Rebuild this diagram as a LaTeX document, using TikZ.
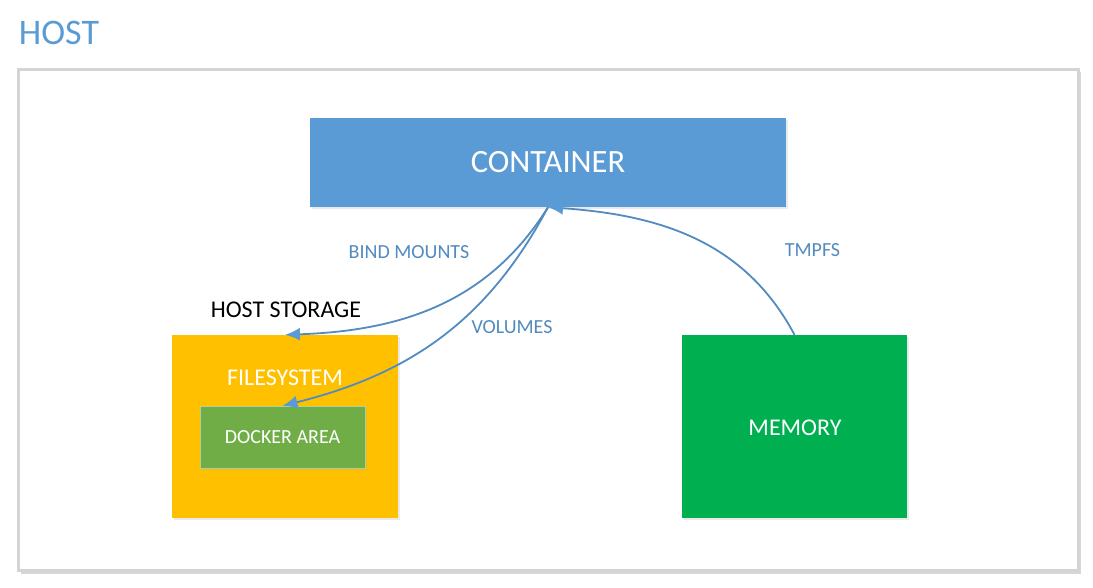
\documentclass[tikz,border=0pt]{standalone}
\usepackage{fontspec}
\setmainfont{Carlito}
\usetikzlibrary{arrows.meta,positioning,shadows}

\definecolor{hostblue}{HTML}{5B9BD5}
\definecolor{storeyellow}{HTML}{FFC000}
\definecolor{dockergreen}{HTML}{70AD47}
\definecolor{memgreen}{HTML}{00B050}

\begin{document}
\begin{tikzpicture}
	[
	 	 %Styles
       x=1pt,y=-1pt,
       inner sep=0pt,
       host_shadow/.style={drop shadow={shadow xshift=2pt,shadow yshift=-3pt,opacity=0.45,fill=blue!10!black!35}},
       block_shadow/.style={drop shadow={shadow xshift=1.5pt,shadow yshift=-2pt,opacity=0.2,fill=blue!10!black!40}},
       host_box/.style={rectangle,draw=black!17,line width=3pt,fill=white,minimum width=1060pt,minimum height=501pt,host_shadow},
       block_node/.style={rectangle,block_shadow},
       title_text/.style={text=hostblue,font=\fontsize{36}{40}\selectfont},
       link_text/.style={text=hostblue!90!black,font=\fontsize{20}{23}\selectfont},
       box_text/.style={text=white,font=\fontsize{24}{27}\selectfont},
       link_arrow/.style={draw=hostblue!90!black,line width=1.8pt,-{Latex[length=15pt,width=13pt,color=hostblue]}}
    ]
    \useasboundingbox (0,0) rectangle (1093,588);

    %Boxes
    \node (host) [host_box] at (548.5,320) {};
    \node (hostname) [title_text] at (59,33) {HOST};
    \node (container) [block_node,fill=hostblue,minimum width=476pt,minimum height=89pt,
       text=white,font=\fontsize{32.5}{36}\selectfont] at (548,162.5) {CONTAINER};
    \node (filesystem) [block_node,fill=storeyellow,minimum width=226pt,minimum height=183pt] at (285,426.5) {};
    \node (docker) [block_node,fill=dockergreen,draw=white!45!dockergreen,minimum width=165pt,minimum height=62pt,
       text=white,font=\fontsize{20}{23}\selectfont] at (282.5,437) {DOCKER AREA};
    \node (memory) [block_node,fill=memgreen,minimum width=225pt,minimum height=183pt] at (794.5,426.5) {};

    %Labels
    \node (fslabel) [box_text] at (285,378) {FILESYSTEM};
    \node (memlabel) [box_text] at (795,428) {MEMORY};
    \node (storage) [font=\fontsize{24}{27}\selectfont] at (286,310) {HOST STORAGE};
    \node (bind) [link_text] at (409,252) {BIND MOUNTS};
    \node (volumes) [link_text] at (512,327) {VOLUMES};
    \node (tmpfs) [link_text] at (812.5,250) {TMPFS};

    %Edges
    \path
       (container.south) edge [link_arrow,out=-122,in=2] (filesystem.north)
       (container.south) edge [link_arrow,out=-118,in=14] (docker.north)
       (memory.north) edge [link_arrow,out=118,in=-4] (container.south);
\end{tikzpicture}
\end{document}
